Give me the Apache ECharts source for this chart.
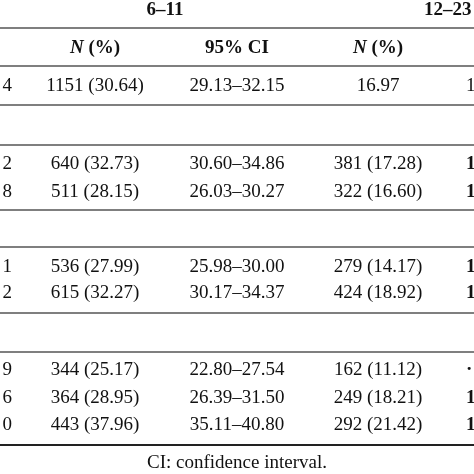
<!DOCTYPE html>
<html><head><meta charset="utf-8">
<script src="https://cdn.jsdelivr.net/npm/echarts@6/dist/echarts.min.js"></script>
<style>html,body{margin:0;background:#fff}#c{width:474px;height:474px}</style>
</head><body><div id="c"></div>
<script>
// table content, cropped as in the source figure
var leftDigits = ['4', '', '2', '8', '', '1', '2', '', '9', '6', '0'];
var nPct611 = ['1151 (30.64)', '', '640 (32.73)', '511 (28.15)', '', '536 (27.99)', '615 (32.27)', '', '344 (25.17)', '364 (28.95)', '443 (37.96)'];
var ci611 = ['29.13\u201332.15', '', '30.60\u201334.86', '26.03\u201330.27', '', '25.98\u201330.00', '30.17\u201334.37', '', '22.80\u201327.54', '26.39\u201331.50', '35.11\u201340.80'];
var nPct1223 = ['16.97', '', '381 (17.28)', '322 (16.60)', '', '279 (14.17)', '424 (18.92)', '', '162 (11.12)', '249 (18.21)', '292 (21.42)'];
var rightDigits = ['1', '', '1', '1', '', '1', '1', '', '\u00b7', '1', '1'];
var rowY = [86, 125, 164, 192, 228, 267, 293, 332, 370, 398, 425];
var ruleY = [28, 66, 105, 145, 210, 247, 313, 352];

var chart = echarts.init(document.getElementById('c'));
var font = '"Liberation Serif", serif';
var els = [];
function txt(x, y, s, align, bold, italicN) {
  els.push({ type: 'text', x: x, y: y, style: { text: s, font: (bold ? 'bold ' : '') + '19px ' + font, fill: '#111', align: align, verticalAlign: 'middle' } });
}
ruleY.forEach(function (y) {
  els.push({ type: 'line', shape: { x1: 0, y1: y, x2: 474, y2: y }, style: { stroke: '#555', lineWidth: 1.5 } });
});
els.push({ type: 'line', shape: { x1: 0, y1: 445, x2: 474, y2: 445 }, style: { stroke: '#222', lineWidth: 2 } });
txt(165, 10, '6\u201311', 'center', true);
txt(424, 10, '12\u201323', 'left', true);
els.push({ type: 'text', x: 95, y: 48, style: { rich: { i: { font: 'italic bold 19px ' + font, fill: '#111' }, b: { font: 'bold 19px ' + font, fill: '#111' } }, text: '{i|N}{b| (%)}', align: 'center', verticalAlign: 'middle' } });
txt(237, 48, '95% CI', 'center', true);
els.push({ type: 'text', x: 378, y: 48, style: { rich: { i: { font: 'italic bold 19px ' + font, fill: '#111' }, b: { font: 'bold 19px ' + font, fill: '#111' } }, text: '{i|N}{b| (%)}', align: 'center', verticalAlign: 'middle' } });
rowY.forEach(function (y, i) {
  txt(12, y, leftDigits[i], 'right', false);
  txt(95, y, nPct611[i], 'center', false);
  txt(237, y, ci611[i], 'center', false);
  txt(378, y, nPct1223[i], 'center', false);
  txt(466, y, rightDigits[i], 'left', i > 0);
});
txt(237, 463, 'CI: confidence interval.', 'center', false);
chart.setOption({ animation: false, graphic: { elements: els } });
</script></body></html>
